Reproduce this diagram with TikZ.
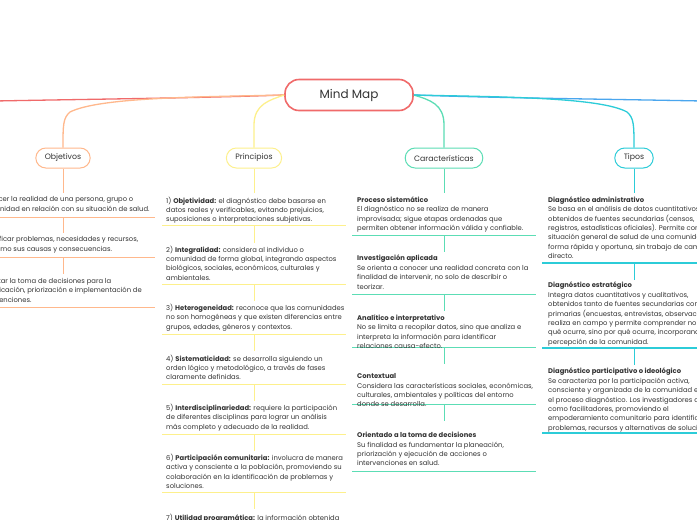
\documentclass[tikz,border=0pt]{standalone}
\usepackage{fontspec}
\setmainfont{Poppins}
\definecolor{cred}{HTML}{F06A6A}
\definecolor{corg}{HTML}{FFB88C}
\definecolor{cyel}{HTML}{FDF08C}
\definecolor{ctea}{HTML}{5CDDB5}
\definecolor{ccya}{HTML}{2CCCD8}
\definecolor{cblu}{HTML}{4AA6EE}
\definecolor{ctxt}{HTML}{333333}
\begin{document}
\begin{tikzpicture}[x=1pt,y=-1pt,
  topic/.style={draw=#1,line width=1pt,rounded corners=10pt,fill=white,minimum height=20pt,inner xsep=9pt,font=\fontsize{7.8}{9}\selectfont,text=ctxt},
  item/.style={anchor=north west,align=left,inner sep=0pt,font=\fontsize{6.8}{9.4}\selectfont,text=ctxt},
  lnk/.style={draw=#1,line width=1.3pt}]
\useasboundingbox (0,0) rectangle (697,520);
\fill[white] (0,0) rectangle (697,520);
\begin{scope}
\clip (0,0) rectangle (697,520);
\node[draw=cred,line width=1.6pt,rounded corners=14pt,fill=white,minimum width=128pt,minimum height=31pt,font=\fontsize{12}{14}\selectfont,text=ctxt] (mm) at (349,95) {Mind Map};
\coordinate (offl) at (-5,101);
\coordinate (offr) at (702,101);
\draw[lnk=cred] (mm.west) .. controls (200,98) and (100,99) .. (offl);
\draw[lnk=cblu] (mm.east) .. controls (500,98) and (600,99) .. (offr);
\node[topic=corg] (obj) at (63,158) {Objetivos};
\node[topic=cyel] (pri) at (254,158) {Principios};
\node[topic=ctea] (car) at (444,158) {Características};
\node[topic=ccya] (tip) at (634,158) {Tipos};
\draw[lnk=corg] (mm.west) .. controls (200,97) and (100,97) .. (70,112) .. controls (63,118) and (63,125) .. (obj.north);
\draw[lnk=cyel] (mm.west) .. controls (270,100) and (254,104) .. (254,125) -- (pri.north);
\draw[lnk=ctea] (mm.east) .. controls (430,100) and (444,104) .. (444,125) -- (car.north);
\draw[lnk=ccya] (mm.east) .. controls (500,97) and (600,97) .. (627,112) .. controls (634,118) and (634,125) .. (tip.north);
% Objetivos
\foreach \s in {217,257,307}{\draw[corg,line width=1pt] (-29,\s) -- (155,\s);}
\node[item] (o1) at (-20,196.5) {Conocer la realidad de una persona, grupo o\\comunidad en relación con su situación de salud.};
\node[item] (o2) at (-20,236.5) {Identificar problemas, necesidades y recursos,\\así como sus causas y consecuencias.};
\node[item] (o3) at (-20,278) {Orientar la toma de decisiones para la\\planificación, priorización e implementación de\\intervenciones.};
\draw[corg,line width=1pt] (obj.south) -- (63,193);
\draw[corg,line width=1pt] (63,217) -- (63,233);
\draw[corg,line width=1pt] (63,257) -- (63,274);
% Principios
\foreach \s in {225.7,284,334,384,434,492}{\draw[cyel,line width=1pt] (162,\s) -- (346,\s);}
\draw[cyel,line width=1pt] (pri.south) -- (254,193);
\foreach \s in {225.7,284,334,384,434,492}{\draw[cyel,line width=1pt] (254,\s) -- (254,\s+17);}
\node[item] (p1) at (166,196.5) {1) \textbf{Objetividad:} el diagnóstico debe basarse en\\datos reales y verificables, evitando prejuicios,\\suposiciones o interpretaciones subjetivas.};
\node[item] (p2) at (166,245.5) {2) \textbf{Integralidad:} considera al individuo o\\comunidad de forma global, integrando aspectos\\biológicos, sociales, económicos, culturales y\\ambientales.};
\node[item] (p3) at (166,304) {3) \textbf{Heterogeneidad:} reconoce que las comunidades\\no son homogéneas y que existen diferencias entre\\grupos, edades, géneros y contextos.};
\node[item] (p4) at (166,354.5) {4) \textbf{Sistematicidad:} se desarrolla siguiendo un\\orden lógico y metodológico, a través de fases\\claramente definidas.};
\node[item] (p5) at (166,404) {5) \textbf{Interdisciplinariedad:} requiere la participación\\de diferentes disciplinas para lograr un análisis\\más completo y adecuado de la realidad.};
\node[item] (p6) at (166,454) {6) \textbf{Participación comunitaria:} involucra de manera\\activa y consciente a la población, promoviendo su\\colaboración en la identificación de problemas y\\soluciones.};
\node[item] (p7) at (166,513.5) {7) \textbf{Utilidad programática:} la información obtenida};
% Caracteristicas
\foreach \s in {235,294,347,404,471}{\draw[ctea,line width=1pt] (352,\s) -- (536,\s);}
\draw[ctea,line width=1pt] (car.south) -- (444,193);
\foreach \s in {235,294,347,404}{\draw[ctea,line width=1pt] (444,\s) -- (444,\s+17);}
\node[item] (c1) at (357,196.5) {\textbf{Proceso sistemático}\\El diagnóstico no se realiza de manera\\improvisada; sigue etapas ordenadas que\\permiten obtener información válida y confiable.};
\node[item] (c2) at (357,255) {\textbf{Investigación aplicada}\\Se orienta a conocer una realidad concreta con la\\finalidad de intervenir, no solo de describir o\\teorizar.};
\node[item] (c3) at (357,314.5) {\textbf{Analítico e interpretativo}\\No se limita a recopilar datos, sino que analiza e\\interpreta la información para identificar\\relaciones causa-efecto.};
\node[item] (c4) at (357,373.5) {\textbf{Contextual}\\Considera las características sociales, económicas,\\culturales, ambientales y políticas del entorno\\donde se desarrolla.};
\node[item] (c5) at (357,432) {\textbf{Orientado a la toma de decisiones}\\Su finalidad es fundamentar la planeación,\\priorización y ejecución de acciones o\\intervenciones en salud.};
% Tipos
\foreach \s in {263,348,433}{\draw[ccya,line width=1.3pt] (542,\s) -- (726,\s);}
\draw[ccya,line width=1pt] (tip.south) -- (634,193);
\foreach \s in {263,348}{\draw[ccya,line width=1pt] (634,\s) -- (634,\s+17);}
\node[item] (t1) at (548,196.5) {\textbf{Diagnóstico administrativo}\\Se basa en el análisis de datos cuantitativos\\obtenidos de fuentes secundarias (censos,\\registros, estadísticas oficiales). Permite conocer la\\situación general de salud de una comunidad de\\forma rápida y oportuna, sin trabajo de campo\\directo.};
\node[item] (t2) at (548,282) {\textbf{Diagnóstico estratégico}\\Integra datos cuantitativos y cualitativos,\\obtenidos tanto de fuentes secundarias como\\primarias (encuestas, entrevistas, observación). Se\\realiza en campo y permite comprender no solo\\qué ocurre, sino por qué ocurre, incorporando la\\percepción de la comunidad.};
\node[item] (t3) at (548,368) {\textbf{Diagnóstico participativo o ideológico}\\Se caracteriza por la participación activa,\\consciente y organizada de la comunidad en\\el proceso diagnóstico. Los investigadores actúan\\como facilitadores, promoviendo el\\empoderamiento comunitario para identificar\\problemas, recursos y alternativas de solución.};
\end{scope}
\end{tikzpicture}
\end{document}
